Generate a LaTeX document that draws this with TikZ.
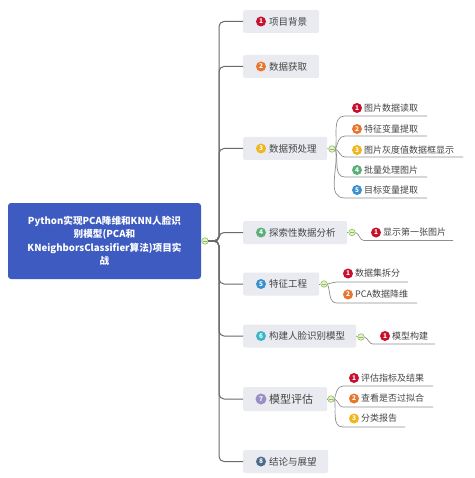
\documentclass[tikz,border=0pt]{standalone}
\usepackage{fontspec}
\setmainfont{Noto Sans CJK SC}
\definecolor{rootblue}{HTML}{3D5BC0}
\definecolor{boxgray}{HTML}{E9EBF0}
\definecolor{trunkc}{HTML}{6A6A6A}
\definecolor{subc}{HTML}{8E8E8E}
\definecolor{txt}{HTML}{454545}
\definecolor{collg}{HTML}{8DBF5A}
\definecolor{collf}{HTML}{E4F2D2}
\definecolor{cA}{HTML}{C8102E}
\definecolor{cB}{HTML}{E8772E}
\definecolor{cC}{HTML}{F2B51C}
\definecolor{cD}{HTML}{5BB07A}
\definecolor{cE}{HTML}{3A8FD0}
\definecolor{cF}{HTML}{3BB5C8}
\definecolor{cG}{HTML}{9B8EC4}
\definecolor{cH}{HTML}{4E6A8A}
\tikzset{
  x=1pt,y=-1pt,
  mainbox/.style={fill=boxgray, rounded corners=2pt, anchor=west, minimum height=23pt, inner sep=0},
  numc/.style={circle, inner sep=0, minimum size=10pt, text=white, font=\fontsize{6.5}{6.5}\selectfont\bfseries},
  lab/.style={anchor=west, inner sep=0, text=txt, font=\fontsize{9.5}{10}\selectfont},
  sublab/.style={anchor=west, inner sep=0, text=txt, font=\fontsize{9}{10}\selectfont},
  br/.style={draw=trunkc, line width=1pt, rounded corners=5pt},
  subln/.style={draw=subc, line width=0.7pt},
  coll/.style={circle, draw=collg, fill=collf, minimum size=6.5pt, inner sep=0, line width=0.6pt},
}
\newcommand\collnode[2]{%
  \node[coll] (#1) at (#2) {};
  \draw[collg, line width=0.6pt] ($(#1)+(-1.8,0)$) -- ($(#1)+(1.8,0)$);}
\usetikzlibrary{calc}
\begin{document}
\begin{tikzpicture}
\useasboundingbox (0,0) rectangle (474,478);
\fill[white] (0,0) rectangle (474,478);

% root
\node[fill=rootblue, rounded corners=3pt, minimum width=193pt, minimum height=76pt,
      text=white, align=center, inner sep=0,
      font=\fontsize{9.6}{13.5}\selectfont\bfseries] (root) at (104.5,241)
  {Python实现PCA降维和KNN人脸识\\别模型(PCA和\\KNeighborsClassifier算法)项目实\\战};
\coordinate (t) at (219,0);

% level-1 boxes
\node[mainbox, minimum width=76pt] (b1) at (243,21.5) {};
\node[mainbox, minimum width=76pt] (b2) at (243,66.5) {};
\node[mainbox, minimum width=84pt] (b3) at (243,148.5) {};
\node[mainbox, minimum width=104pt] (b4) at (243,232.5) {};
\node[mainbox, minimum width=76pt] (b5) at (243,284) {};
\node[mainbox, minimum width=113pt] (b6) at (243,336) {};
\node[mainbox, minimum width=84pt, minimum height=24pt] (b7) at (243,399) {};
\node[mainbox, minimum width=85pt] (b8) at (243,461.5) {};

% trunk connectors
\collnode{rc}{205,241}
\foreach \b in {b1,b2,b3,b4,b5,b6,b7,b8}{
  \draw[br] (rc.east) -- (rc.east -| t) -- (t |- \b.west) -- (\b.west);
}
\draw[trunkc, line width=2pt, line cap=round] (rc.east) -- ($(rc.east -| t)+(-2,0)$);

% level-1 icons and labels
\node[numc, fill=cA] (i1) at (261,21.5) {1};
\node[lab] (l1) at (269,21.5) {项目背景};
\node[numc, fill=cB] (i2) at (261,66.5) {2};
\node[lab] (l2) at (269,66.5) {数据获取};
\node[numc, fill=cC] (i3) at (261,148.5) {3};
\node[lab] (l3) at (269,148.5) {数据预处理};
\node[numc, fill=cD] (i4) at (261,232.5) {4};
\node[lab] (l4) at (269,232.5) {探索性数据分析};
\node[numc, fill=cE] (i5) at (261,284) {5};
\node[lab] (l5) at (269,284) {特征工程};
\node[numc, fill=cF] (i6) at (261,336) {6};
\node[lab] (l6) at (269,336) {构建人脸识别模型};
\node[numc, fill=cG, minimum size=11pt] (i7) at (261,399) {7};
\node[lab, font=\fontsize{11}{12}\selectfont] (l7) at (269,399) {模型评估};
\node[numc, fill=cH] (i8) at (261,461.5) {8};
\node[lab] (l8) at (269,461.5) {结论与展望};

% ---- node 3 children
\collnode{c3}{332,149}
\draw[subln] (b3.east) -- (c3.west);
\coordinate (u31) at (345,116);
\coordinate (u32) at (345,136);
\coordinate (u33) at (345,157);
\coordinate (u34) at (345,177);
\coordinate (u35) at (345,198);
\draw[subln] (c3.east) to[out=80,in=180] (u31) -- ++(82,0);
\draw[subln] (c3.east) to[out=70,in=180] (u32) -- ++(82,0);
\draw[subln] (c3.east) to[out=-30,in=180] (u33) -- ++(118,0);
\draw[subln] (c3.east) to[out=-75,in=180] (u34) -- ++(82,0);
\draw[subln] (c3.east) to[out=-80,in=180] (u35) -- ++(82,0);
\node[numc, fill=cA] at (357,108) {1};
\node[sublab] at (364,108) {图片数据读取};
\node[numc, fill=cB] at (357,129) {2};
\node[sublab] at (364,129) {特征变量提取};
\node[numc, fill=cC] at (357,150) {3};
\node[sublab] at (364,150) {图片灰度值数据框显示};
\node[numc, fill=cD] at (357,170) {4};
\node[sublab] at (364,170) {批量处理图片};
\node[numc, fill=cE] at (357,190) {5};
\node[sublab] at (364,190) {目标变量提取};

% ---- node 4 child
\collnode{c4}{352,232.5}
\draw[subln] (b4.east) -- (c4.west);
\coordinate (u41) at (364,240.5);
\draw[subln] (c4.east) to[out=-20,in=180] (u41) -- ++(89,0);
\node[numc, fill=cA] at (376,232.5) {1};
\node[sublab] at (383,232.5) {显示第一张图片};

% ---- node 5 children
\collnode{c5}{324,284}
\draw[subln] (b5.east) -- (c5.west);
\coordinate (u51) at (337,282);
\coordinate (u52) at (337,303);
\draw[subln] (c5.east) to[out=10,in=180] (u51) -- ++(71,0);
\draw[subln] (c5.east) to[out=-70,in=180] (u52) -- ++(80,0);
\node[numc, fill=cA] at (348,273.5) {1};
\node[sublab] at (355,273.5) {数据集拆分};
\node[numc, fill=cB] at (348,294.5) {2};
\node[sublab] at (355,294.5) {PCA数据降维};

% ---- node 6 child
\collnode{c6}{361,337}
\draw[subln] (b6.east) -- (c6.west);
\coordinate (u61) at (373,344);
\draw[subln] (c6.east) to[out=-20,in=180] (u61) -- ++(62,0);
\node[numc, fill=cA] at (385,336) {1};
\node[sublab] at (392,336) {模型构建};

% ---- node 7 children
\collnode{c7}{331,399}
\draw[subln] (b7.east) -- (c7.west);
\coordinate (u71) at (343,386);
\coordinate (u72) at (343,407);
\coordinate (u73) at (343,427);
\draw[subln] (c7.east) to[out=75,in=180] (u71) -- ++(90,0);
\draw[subln] (c7.east) to[out=-25,in=180] (u72) -- ++(90,0);
\draw[subln] (c7.east) to[out=-80,in=180] (u73) -- ++(62,0);
\node[numc, fill=cA] at (354,378) {1};
\node[sublab] at (361,378) {评估指标及结果};
\node[numc, fill=cB] at (354,398.5) {2};
\node[sublab] at (361,398.5) {查看是否过拟合};
\node[numc, fill=cC] at (354,418.5) {3};
\node[sublab] at (361,418.5) {分类报告};
\end{tikzpicture}
\end{document}
